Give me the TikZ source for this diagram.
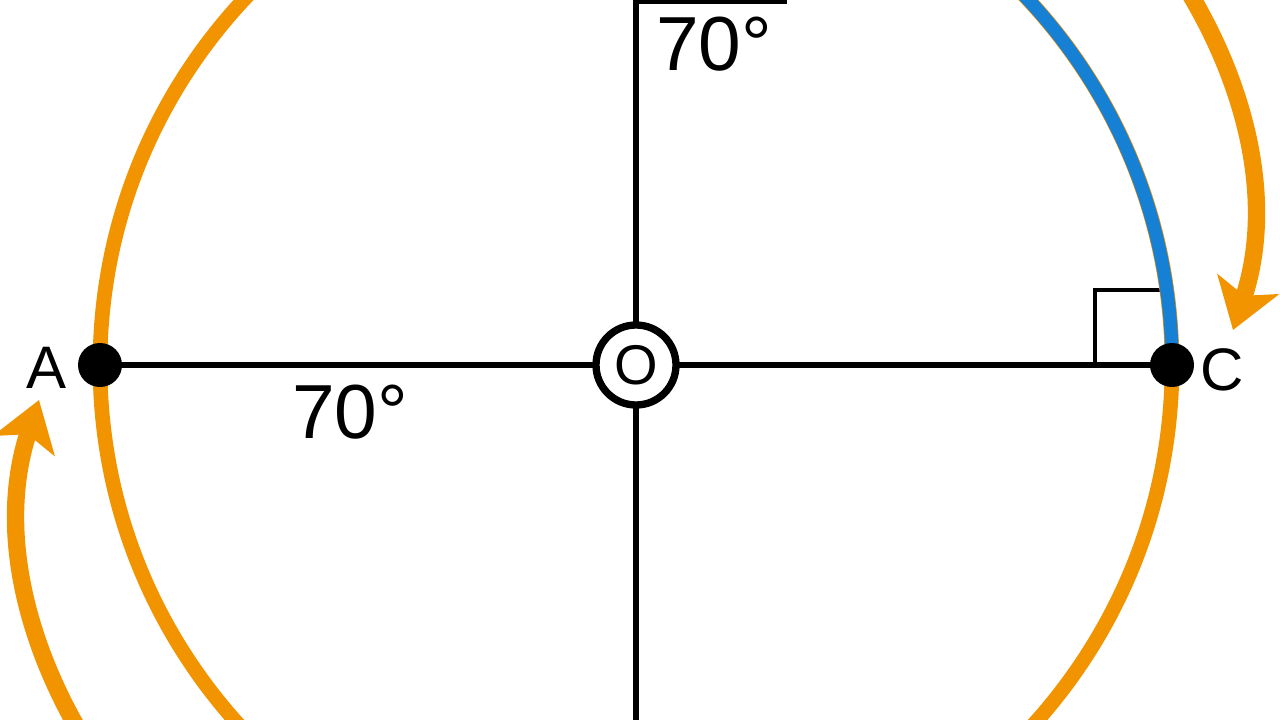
\documentclass[tikz,border=0pt]{standalone}
\usepackage{fontspec}
\setmainfont{Liberation Sans}
\usetikzlibrary{arrows.meta}
\definecolor{arcorange}{RGB}{241,148,0}
\definecolor{arcblue}{RGB}{22,128,212}
\tikzset{
  blackline/.style={line width=5pt, black},
  dot/.style={circle, fill=black, minimum size=33pt, inner sep=0pt},
  centre/.style={circle, draw=black, line width=5.5pt, fill=white, minimum size=60pt, inner sep=0pt, font=\fontsize{42}{42}\selectfont},
  lbl/.style={inner sep=0pt, font=\fontsize{45}{45}\selectfont},
  anglelbl/.style={inner sep=0pt, font=\fontsize{57.5}{57.5}\selectfont},
  orangearc/.style={line width=11pt, arcorange},
  bluearc/.style={line width=10pt, arcblue},
  turnarrow/.style={line width=13pt, arcorange, -{Stealth[length=36pt, width=48pt, inset=9pt]}}
}
\begin{document}
\begin{tikzpicture}[x=0.75pt, y=-0.75pt]
\useasboundingbox (0,0) rectangle (1280,720);
\clip (0,0) rectangle (1280,720);
\fill[white] (0,0) rectangle (1280,720);
% coordinates
\coordinate (Oc) at (636,365);
\coordinate (Ac) at (100,365);
\coordinate (Cc) at (1172,365);
\coordinate (top) at (636,-20);
\coordinate (bot) at (636,740);
\coordinate (topend) at (787,1);
% right angle mark
\coordinate (sq1) at (1095,365);
\coordinate (sq2) at (1095,290);
\coordinate (sq3) at (1170,290);
\draw[line width=3.5pt] (sq1) -- (sq2) -- (sq3);
% circle
\draw[orangearc] (Oc) circle[radius=402pt];
\draw[bluearc] (Cc) arc[start angle=0, end angle=80, radius=402pt];
% axes
\draw[blackline] (top) -- (bot);
\draw[blackline] (636,1) -- (topend);
\draw[blackline] (Ac) -- (Cc);
% arrows
\coordinate (r0) at (1168,-40);
\coordinate (r1) at (1233,330);
\draw[turnarrow] (r0) .. controls (1238,60) and (1279,190) .. (r1);
\begin{scope}[rotate around={180:(636,365)}]
\coordinate (l0) at (1168,-40);
\coordinate (l1) at (1233,330);
\draw[turnarrow] (l0) .. controls (1238,60) and (1279,190) .. (l1);
\end{scope}
% nodes
\node[centre] (O) at (Oc) {O};
\node[dot] (A) at (Ac) {};
\node[dot] (C) at (Cc) {};
\node[lbl] (Alab) at (47,368) {A};
\node[lbl] (Clab) at (1222,370) {C};
\node[anglelbl] (ang1) at (714,44) {70°};
\node[anglelbl] (ang2) at (350,412) {70°};
\end{tikzpicture}
\end{document}
